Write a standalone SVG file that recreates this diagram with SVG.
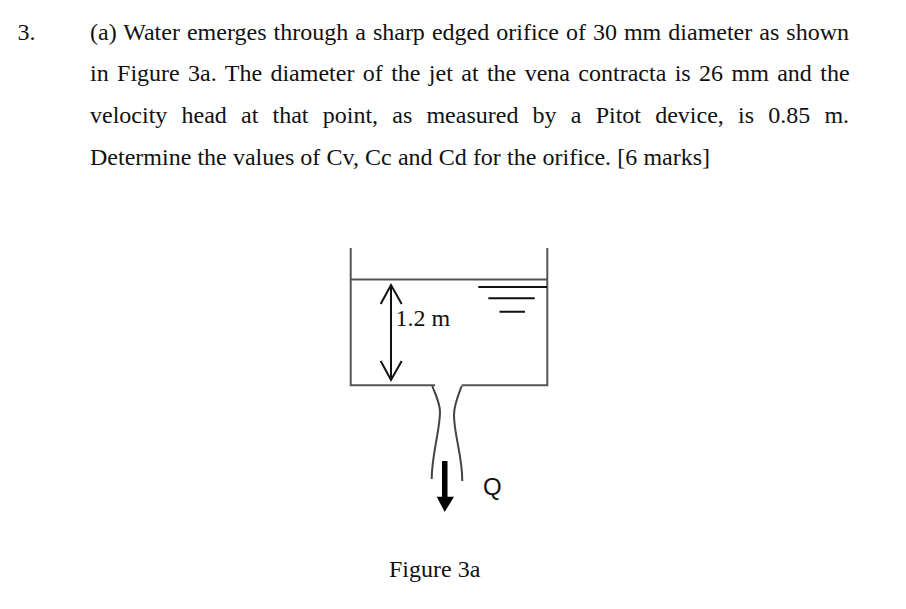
<svg xmlns="http://www.w3.org/2000/svg" width="906" height="609" viewBox="0 0 906 609">
<style>
text{font-family:"Liberation Serif","Times New Roman",serif;fill:#111;font-size:24px}
.t{stroke:#555;stroke-width:2;fill:none}
.k{stroke:#111;stroke-width:2;fill:none}
.j{stroke:#444;stroke-width:2;fill:none}
</style>
<rect width="906" height="609" fill="#fff"/>
<text x="17.5" y="40">3.</text>
<text x="90" y="40" word-spacing="1.03">(a) Water emerges through a sharp edged orifice of 30 mm diameter as shown</text>
<text x="90" y="81" word-spacing="2.39">in Figure 3a. The diameter of the jet at the vena contracta is 26 mm and the</text>
<text x="90" y="123" word-spacing="8.2">velocity head at that point, as measured by a Pitot device, is 0.85 m.</text>
<text x="90" y="165" word-spacing="0.15">Determine the values of Cv, Cc and Cd for the orifice. [6 marks]</text>
<g id="tank">
<path class="t" d="M350.7 248V385.3H435M461.7 385.3H547.3V248M350.7 279.5H547.3"/>
</g>
<g id="water-level">
<path class="k" d="M478.3 287H547M488.3 298.3H534.7M499.5 311.7H525" stroke-width="1.6"/>
</g>
<g id="jet">
<path class="j" d="M432.3 386C436 396 440 403 440 412C440 430 431.7 455 431.7 479"/>
<path class="j" d="M461.7 386C458 396 454 405 454 415C454 435 462.3 455 462.3 481"/>
</g>
<g id="depth-arrow">
<path class="k" d="M391 285V380M380.7 304L391 285L401.7 304M380.7 361L391 380L401.7 361"/>
<text x="395.5" y="326">1.2 m</text>
</g>
<g id="flow-arrow">
<path d="M442 461H447.5V496.7H454L444.7 512L436.7 496.7H442Z" fill="#000"/>
<text x="483" y="495" style="font-family:'Liberation Sans',Arial,sans-serif;font-size:24px">Q</text>
</g>
<text id="caption" x="389" y="577">Figure 3a</text>
</svg>
